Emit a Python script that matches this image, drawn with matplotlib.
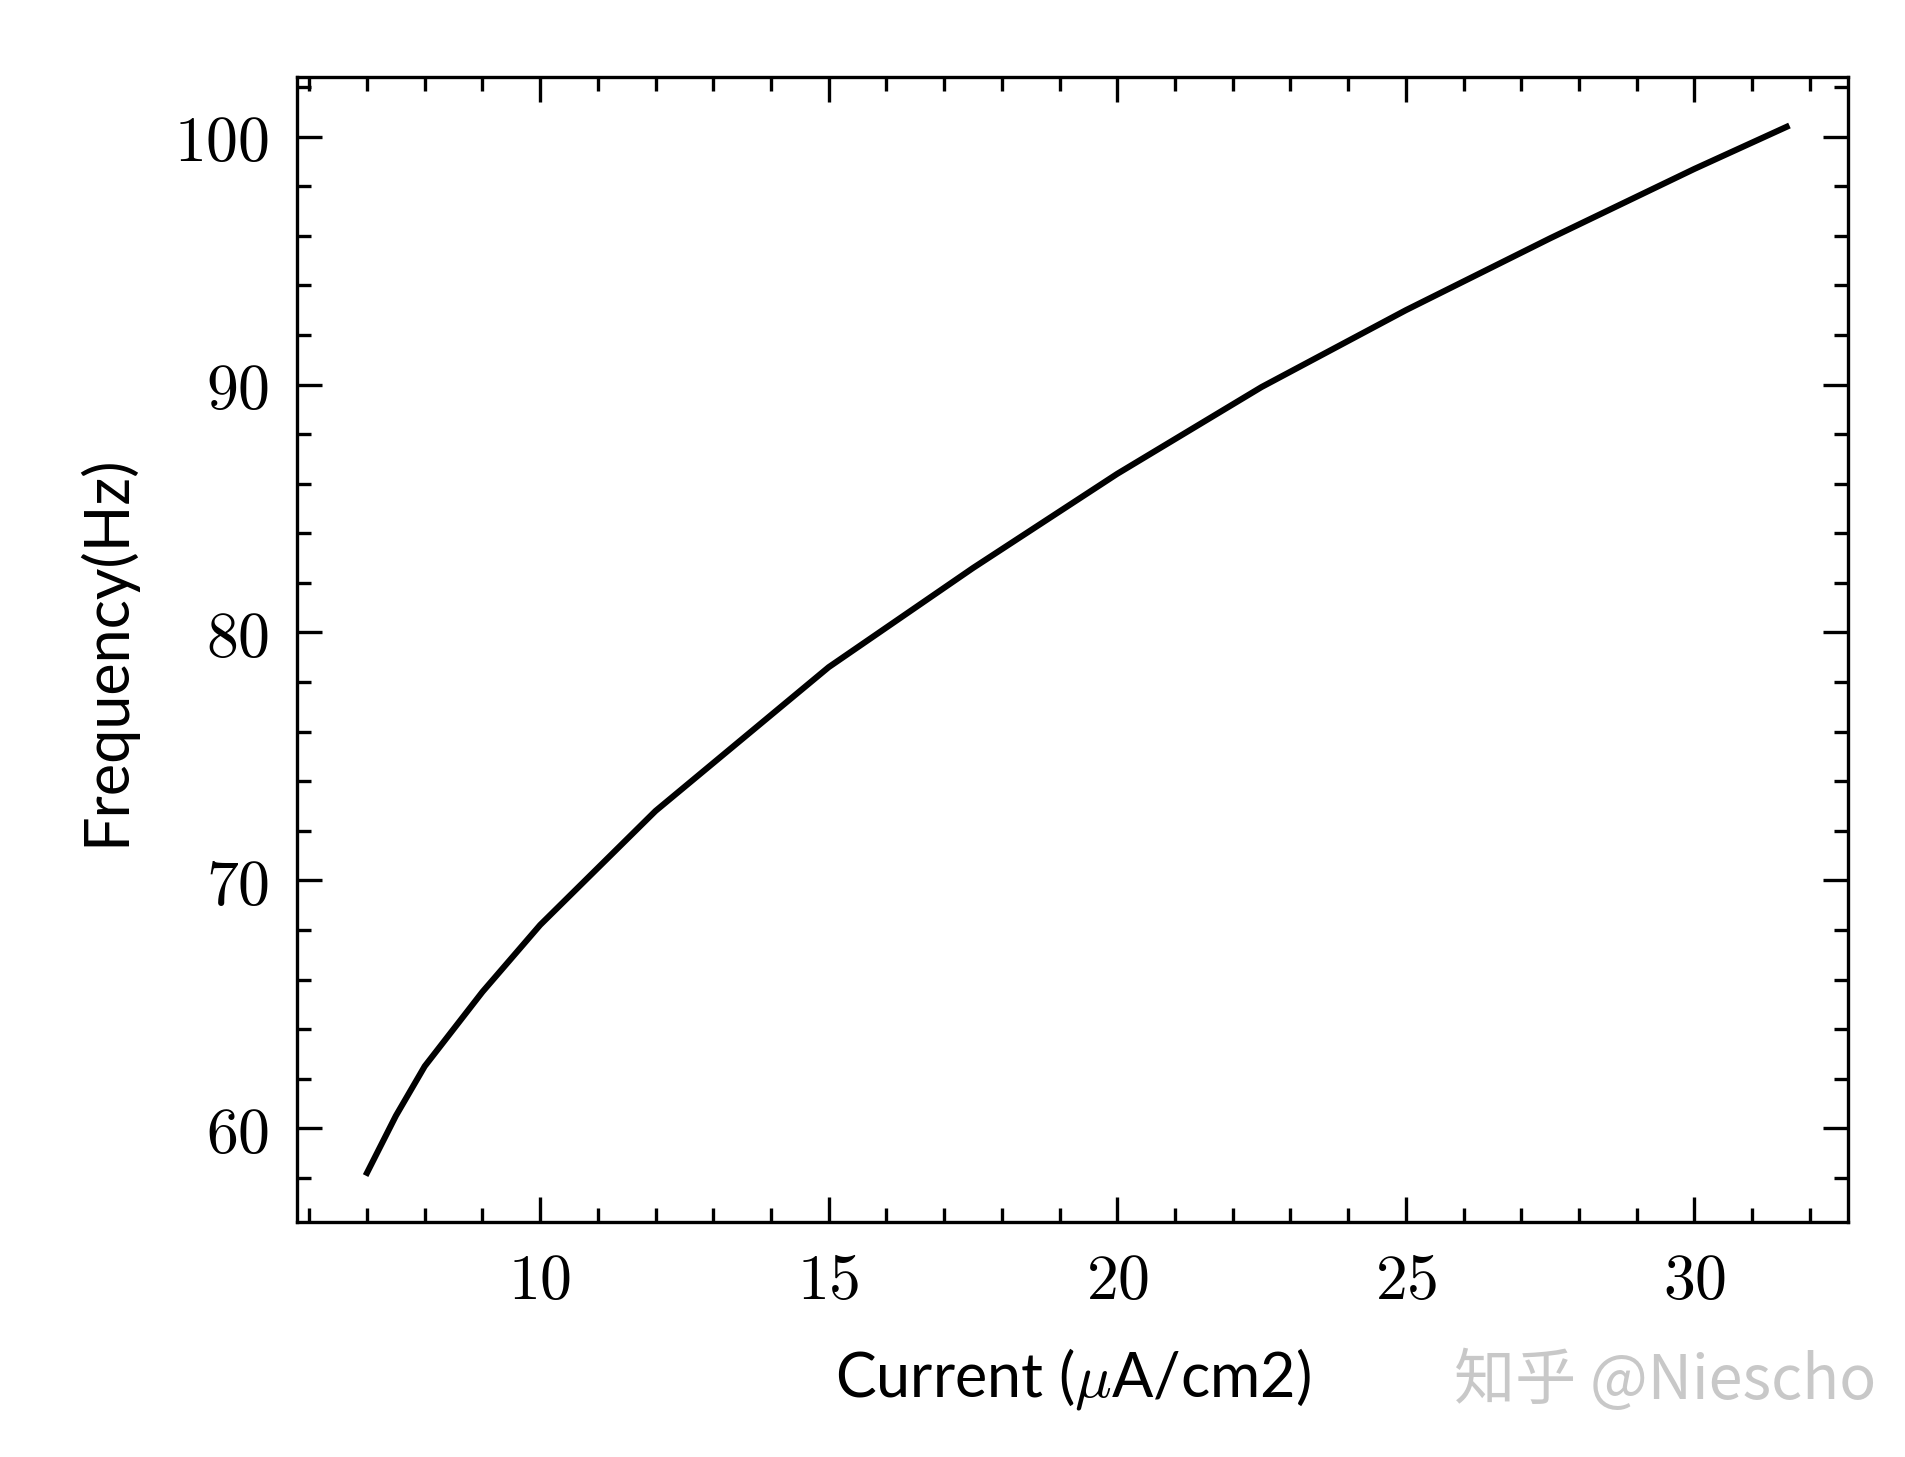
import matplotlib
matplotlib.use("Agg")
import matplotlib.pyplot as plt
from matplotlib.ticker import AutoMinorLocator, FuncFormatter

# values
current = [7.0, 7.5, 8.0, 9.0, 10.0, 12.0, 15.0, 17.5, 20.0, 22.5, 25.0, 27.5, 30.0, 31.6]
frequency = [58.2, 60.5, 62.5, 65.5, 68.2, 72.8, 78.6, 82.6, 86.4, 89.9, 93.0, 95.9, 98.7, 100.4]

plt.rcParams["mathtext.fontset"] = "cm"

fig = plt.figure(figsize=(9.525, 7.285), dpi=200)
ax = fig.add_axes([0.156, 0.161, 0.814, 0.786])
ax.plot(current, frequency, color="black", lw=2.2)

ax.set_xlim(5.79, 32.66)
ax.set_ylim(56.2, 102.4)
ax.set_xticks([10, 15, 20, 25, 30])
ax.set_yticks([60, 70, 80, 90, 100])
ax.xaxis.set_minor_locator(AutoMinorLocator(5))
ax.yaxis.set_minor_locator(AutoMinorLocator(5))
fmt = FuncFormatter(lambda v, _: f"${v:.0f}$")
ax.xaxis.set_major_formatter(fmt)
ax.yaxis.set_major_formatter(fmt)
ax.tick_params(which="both", direction="in", top=True, right=True, width=1.2, labelsize=23)
ax.tick_params(which="major", length=9, pad=10)
ax.tick_params(which="minor", length=5)
for s in ax.spines.values():
    s.set_linewidth(1.2)

ax.set_xlabel(r"Current ($\mu$A/cm2)", fontsize=22, family="Lato", labelpad=12)
ax.set_ylabel("Frequency(Hz)", fontsize=22, family="Lato", labelpad=14)

fig.text(0.985, 0.03, "知乎 @Niescho", ha="right", va="bottom", fontsize=22,
         color="#c8c8c8", family=["Noto Sans CJK SC", "DejaVu Sans"])

fig.savefig("out.png", dpi=200)
